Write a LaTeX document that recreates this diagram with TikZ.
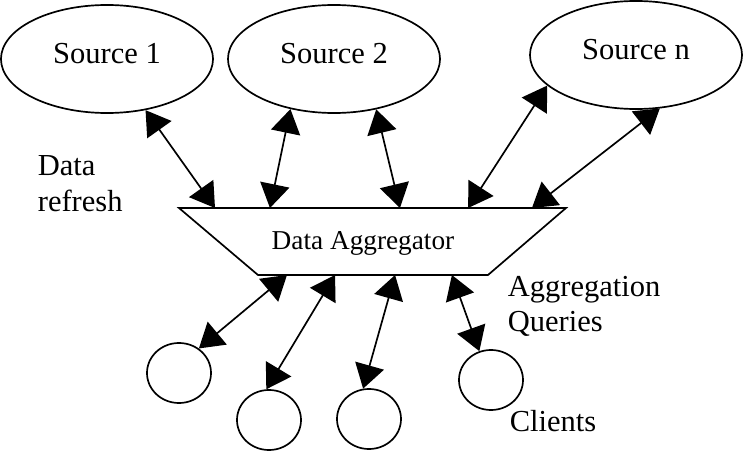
\documentclass[tikz,border=0pt]{standalone}
\usepackage{fontspec}
\setmainfont{Liberation Serif}
\usetikzlibrary{arrows.meta,shapes.geometric,calc}

\begin{document}
\begin{tikzpicture}[x=0.025cm,y=-0.025cm,line width=1.2pt,
  fonte/.style={draw,ellipse,minimum width=5.3cm,minimum height=2.7cm,inner sep=0pt,
    text depth=8pt,font=\fontsize{21.7}{25.5}\selectfont},
  cliente/.style={draw,ellipse,minimum width=1.6cm,minimum height=1.5cm,inner sep=0pt},
  rotulo/.style={inner sep=0pt,align=left,font=\fontsize{21.7}{25.5}\selectfont},
  seta/.style={{Triangle[length=17pt,width=21pt]}-{Triangle[length=17pt,width=21pt]}}]
\useasboundingbox (0,0) rectangle (745,453);

% Fontes
\node[fonte] (s1) at (107,59) {Source 1};
\node[fonte] (s2) at (334,59) {Source 2};
\node[fonte] (sn) at (636,55) {Source n};

% Agregador
\coordinate (tl) at (179,208);
\coordinate (tr) at (566,208);
\coordinate (br) at (488,275);
\coordinate (bl) at (258,275);
\draw (tl) -- (tr) -- (br) -- (bl) -- cycle;
\node[anchor=base,inner sep=0pt,font=\fontsize{19.4}{23}\selectfont] (agg) at (363,249) {Data Aggregator};

% Clientes
\node[cliente] (c1) at (179,373) {};
\node[cliente] (c2) at (269,420) {};
\node[cliente] (c3) at (369,419) {};
\node[cliente] (c4) at (491,380) {};

% Setas fontes - agregador
\draw[seta] (s1.307) -- ($(tl)!0.093!(tr)$);
\draw[seta] (s2.229) -- ($(tl)!0.235!(tr)$);
\draw[seta] (s2.310) -- ($(tl)!0.571!(tr)$);
\draw[seta] (sn.199) -- ($(tl)!0.747!(tr)$);
\draw[seta] (sn.294) -- ($(tl)!0.912!(tr)$);

% Setas agregador - clientes
\draw[seta] ($(bl)!0.126!(br)$) -- (c1.51);
\draw[seta] ($(bl)!0.335!(br)$) -- (c2.95);
\draw[seta] ($(bl)!0.596!(br)$) -- (c3.101);
\draw[seta] ($(bl)!0.843!(br)$) -- (c4.112);

% Rotulos
\node[rotulo,anchor=north west] (refresh) at (37,155) {Data\\refresh};
\node[rotulo,anchor=north west] (queries) at (507,275) {Aggregation\\Queries};
\node[rotulo,anchor=base west] (clients) at (509,431) {Clients};

\end{tikzpicture}
\end{document}
